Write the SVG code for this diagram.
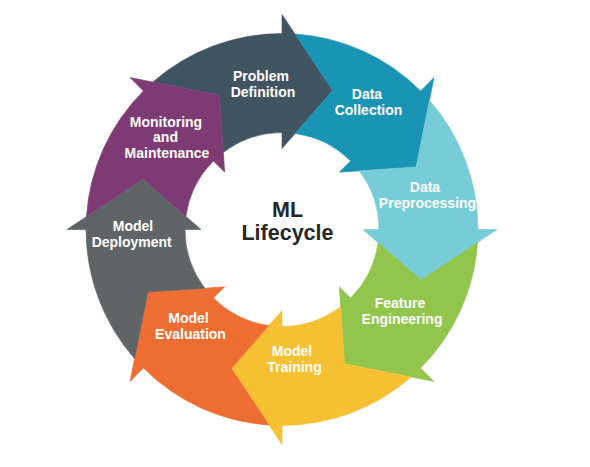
<svg xmlns="http://www.w3.org/2000/svg" width="590" height="467" viewBox="0 0 590 467">
<style>
.seg{stroke-width:0.6;stroke-linejoin:miter}
.lbl{font-family:"Liberation Sans",Arial,Helvetica,sans-serif;font-weight:bold;font-size:14px;fill:#ffffff;text-anchor:middle}
.title{font-family:"Liberation Sans",Arial,Helvetica,sans-serif;font-weight:bold;font-size:21.5px;fill:#262626;text-anchor:middle}
</style>
<rect width="590" height="467" fill="#ffffff"/>
<g id="problem-definition">
<path class="seg" fill="#415462" stroke="#415462" d="M152.87,82.05 A196,196 0 0 1 282,33.5 L282,14.5 L332.62,90.43 L282,148.5 L282,132.5 A97,97 0 0 0 223.35,152.24 L219.45,95.37 Z"/>
<text class="lbl" x="261" y="81">Problem</text>
<text class="lbl" x="263" y="96.7">Definition</text>
</g>
<g id="data-collection">
<path class="seg" fill="#1A94B4" stroke="#1A94B4" d="M294.95,33.93 A196,196 0 0 1 420.59,90.91 L434.03,77.47 L416.13,166.96 L339.28,172.22 L350.59,160.91 A97,97 0 0 0 295.16,133.40 L332.62,90.43 Z"/>
<text class="lbl" x="367" y="99.3">Data</text>
<text class="lbl" x="368.5" y="115">Collection</text>
</g>
<g id="data-preprocessing">
<path class="seg" fill="#77CDD7" stroke="#77CDD7" d="M429.45,100.37 A196,196 0 0 1 478,229.5 L497,229.5 L421.07,280.12 L363,229.5 L379,229.5 A97,97 0 0 0 359.26,170.85 L416.13,166.95 Z"/>
<text class="lbl" x="425" y="192.3">Data</text>
<text class="lbl" x="427.5" y="208.3">Preprocessing</text>
</g>
<g id="feature-engineering">
<path class="seg" fill="#91C54B" stroke="#91C54B" d="M477.57,242.45 A196,196 0 0 1 420.59,368.09 L434.03,381.53 L344.54,363.63 L339.28,286.78 L350.59,298.09 A97,97 0 0 0 378.10,242.66 L421.07,280.12 Z"/>
<text class="lbl" x="400" y="307.7">Feature</text>
<text class="lbl" x="402" y="324">Engineering</text>
</g>
<g id="model-training">
<path class="seg" fill="#F5C132" stroke="#F5C132" d="M411.13,376.95 A196,196 0 0 1 282,425.5 L282,444.5 L231.38,368.57 L282,310.5 L282,326.5 A97,97 0 0 0 340.65,306.76 L344.55,363.63 Z"/>
<text class="lbl" x="292" y="356">Model</text>
<text class="lbl" x="294.5" y="372.3">Training</text>
</g>
<g id="model-evaluation">
<path class="seg" fill="#ED6D32" stroke="#ED6D32" d="M269.05,425.07 A196,196 0 0 1 143.41,368.09 L129.97,381.53 L147.87,292.04 L224.72,286.78 L213.41,298.09 A97,97 0 0 0 268.84,325.60 L231.38,368.57 Z"/>
<text class="lbl" x="188.5" y="323.3">Model</text>
<text class="lbl" x="190.5" y="339">Evaluation</text>
</g>
<g id="model-deployment">
<path class="seg" fill="#5F6566" stroke="#5F6566" d="M134.55,358.63 A196,196 0 0 1 86,229.5 L67,229.5 L142.93,178.88 L201,229.5 L185,229.5 A97,97 0 0 0 204.74,288.15 L147.87,292.05 Z"/>
<text class="lbl" x="133" y="231.3">Model</text>
<text class="lbl" x="131.7" y="247">Deployment</text>
</g>
<g id="monitoring-maintenance">
<path class="seg" fill="#7D3A74" stroke="#7D3A74" d="M86.43,216.55 A196,196 0 0 1 143.41,90.91 L129.97,77.47 L219.46,95.37 L224.72,172.22 L213.41,160.91 A97,97 0 0 0 185.90,216.34 L142.93,178.88 Z"/>
<text class="lbl" x="166" y="126.7">Monitoring</text>
<text class="lbl" x="165.5" y="141.7">and</text>
<text class="lbl" x="167" y="157.7">Maintenance</text>
</g>
<g id="connectors"></g>
<g id="center">
<text class="title" x="287.5" y="216.7">ML</text>
<text class="title" x="287.5" y="240">Lifecycle</text>
</g>
</svg>
